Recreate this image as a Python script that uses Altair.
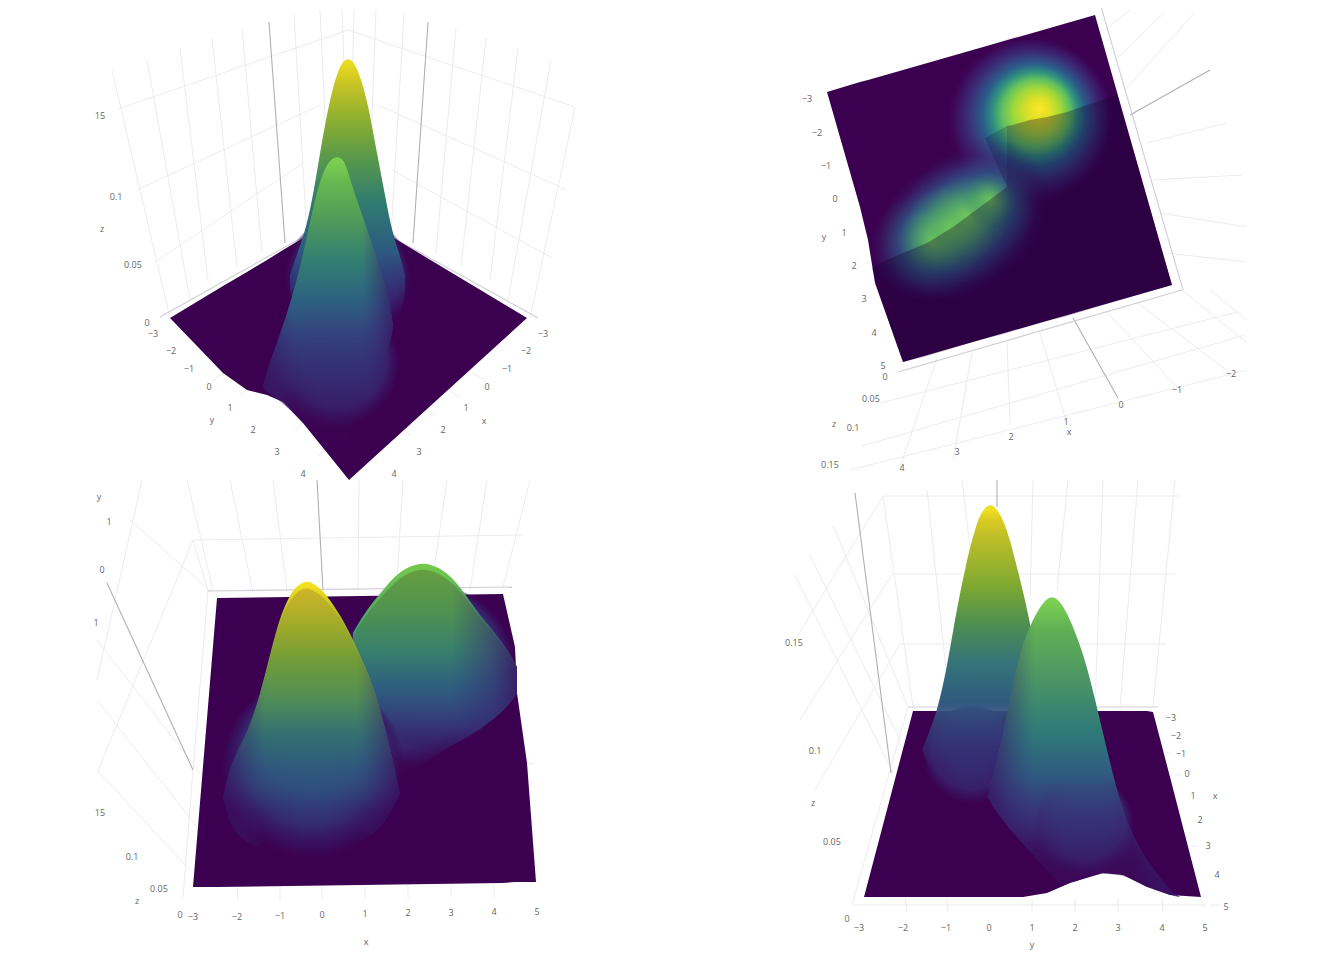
import altair as alt
import pandas as pd

# ---------- panel frames (picture coordinates) ----------
W, H = 664, 472
FRAMES = {1: (8, 8), 2: (672, 8), 3: (8, 480), 4: (672, 480)}

# ---------- panel 1 ----------
P1_FLOOR_X = [170, 223, 247, 267, 283, 303, 349, 527]
P1_FLOOR_TOP = [318, 286, 272, 260, 250, 238, 211, 318]
P1_FLOOR_BOT = [318, 373, 390, 395, 402, 423, 480, 318]
P1_BACK_X = [290, 298, 307, 314, 320, 325, 330, 338, 348, 358, 367, 372, 377, 385, 392, 400, 405]
P1_BACK_TOP = [275, 252, 225, 190, 153, 125, 100, 68, 55, 68, 100, 126, 153, 195, 232, 255, 275]
P1_BACK_BOT = [290, 320, 330, 335, 340, 340, 340, 340, 340, 340, 340, 340, 340, 340, 335, 320, 290]
P1_FRONT_X = [263, 267, 277, 290, 302, 310, 316, 323, 330, 337, 344, 348, 355, 363, 370, 377, 384, 390, 393]
P1_FRONT_TOP = [387, 370, 343, 305, 260, 222, 195, 172, 160, 156, 160, 172, 195, 217, 238, 260, 282, 303, 327]
P1_FRONT_BOT = [387, 392, 398, 410, 422, 430, 438, 445, 452, 455, 445, 437, 420, 403, 388, 373, 358, 343, 327]
P1_SKIRT_BACK = [(348, 278, 16384)]
P1_SKIRT_FRONT = [(338, 365, 15376)]
P1_GRID = [(112, 70, 170, 318), (147, 60, 190, 300), (180, 48, 208, 280), (212, 38, 237, 267), (242, 28, 262, 253),
           (294, 15, 307, 235), (320, 10, 330, 225), (342, 10, 349, 210), (354, 10, 349, 210), (376, 10, 368, 225),
           (404, 15, 391, 235), (456, 28, 436, 253), (486, 38, 461, 267), (518, 48, 490, 280), (551, 60, 508, 300),
           (575, 108, 530, 318), (118, 109, 348, 30), (137, 190, 320, 105), (155, 262, 303, 163),
           (575, 107, 348, 30), (567, 190, 378, 105), (552, 258, 392, 170),
           (223, 373, 212, 381), (247, 390, 240, 395), (303, 423, 295, 430), (325, 450, 318, 456),
           (472, 373, 486, 381), (450, 391, 460, 397), (428, 410, 436, 416), (405, 430, 410, 435)]
P1_AXES = [(269, 22, 285, 243), (428, 22, 413, 243)]
P1_EDGES = [(160, 317, 303, 237), (392, 237, 538, 318)]
P1_TEXT = ["15", "0.1", "z", "0.05", "0", "−3", "−2", "−1", "0", "1", "y", "2", "3", "4",
           "−3", "−2", "−1", "0", "1", "x", "2", "3", "4"]
P1_TEXT_X = [100, 116, 102, 133, 147, 153, 171, 189, 209, 230, 212, 253, 277, 303, 543, 526, 507, 487, 466, 484, 443, 419, 394]
P1_TEXT_Y = [116, 197, 229, 265, 323, 334, 351, 369, 387, 408, 420, 430, 452, 474, 334, 351, 369, 387, 408, 421, 430, 452, 474]

# ---------- panel 2 ----------
P2_FLOOR_X = [827, 860, 868, 875, 903, 1095, 1172]
P2_FLOOR_TOP = [92, 82, 80, 78, 70, 15, 285]
P2_FLOOR_BOT = [92, 207, 240, 283, 362, 307, 285]
P2_SHADE_X = [872, 893, 903, 927, 953, 980, 1007, 1007, 1013, 1030, 1047, 1067, 1090, 1117, 1172]
P2_SHADE_TOP = [268, 257, 253, 243, 227, 207, 187, 126, 125, 120, 117, 112, 104, 95, 285]
P2_SHADE_BOT = [268, 334, 362, 356, 348, 340, 333, 333, 331, 326, 321, 316, 309, 301, 285]
P2_WEDGE_X = [985, 1007]
P2_WEDGE_TOP = [138, 126]
P2_WEDGE_BOT = [138, 187]
P2_BLOB_A = [(1030, 120, 28900)]
P2_HALO_B = [(942, 240, 16900), (965, 222, 22500), (985, 207, 19600)]
P2_MID_B = [(925, 246, 12100), (945, 234, 16900), (968, 218, 16900), (990, 202, 10000)]
P2_CORE_B = [(932, 241, 4900), (950, 229, 8100), (968, 217, 7000), (990, 200, 3000)]
P2_GRID = [(937, 358, 900, 467), (972, 353, 953, 460), (1007, 342, 1010, 423), (1040, 333, 1065, 417), (1107, 312, 1177, 387),
           (1138, 303, 1230, 373), (1182, 290, 1247, 343), (880, 403, 1237, 312), (862, 446, 1245, 335), (850, 470, 1247, 370),
           (1147, 143, 1227, 123), (1152, 180, 1242, 175), (1160, 213, 1247, 227), (1167, 253, 1247, 262),
           (1125, 90, 1195, 12), (1115, 60, 1165, 12), (1105, 30, 1130, 10), (1210, 290, 1247, 320)]
P2_AXES = [(1130, 115, 1210, 70), (1073, 318, 1118, 398)]
P2_EDGES = [(898, 372, 1182, 290), (1100, 3, 1183, 290)]
P2_TEXT = ["−3", "−2", "−1", "0", "1", "y", "2", "3", "4", "5", "0", "0.05", "z", "0.1", "0.15", "4", "3", "2", "1", "x", "0", "−1", "−2"]
P2_TEXT_X = [807, 817, 826, 835, 844, 824, 854, 864, 874, 883, 885, 871, 834, 853, 830, 902, 957, 1011, 1066, 1069, 1121, 1177, 1231]
P2_TEXT_Y = [99, 133, 166, 199, 233, 237, 266, 299, 333, 366, 377, 399, 424, 428, 465, 468, 452, 437, 422, 432, 405, 390, 374]

# ---------- panel 3 ----------
P3_FLOOR_X = [193, 217, 503, 515, 517, 527, 536]
P3_FLOOR_TOP = [887, 598, 594, 647, 693, 763, 882]
P3_FLOOR_BOT = [887, 887, 883, 882, 882, 882, 882]
P3_B_X = [353, 365, 383, 395, 407, 423, 439, 455, 467, 483, 503, 517]
P3_B_TOP = [633, 612, 590, 576, 567, 562, 567, 580, 597, 620, 642, 667]
P3_B_IN = [636, 616, 595, 582, 573, 568, 573, 585, 600, 622, 644, 669]
P3_B_BOT = [780, 780, 780, 778, 772, 764, 752, 744, 737, 727, 712, 693]
P3_SKIRT_B = [(400, 690, 25600), (435, 668, 26896)]
P3_A_X = [223, 230, 240, 247, 257, 267, 277, 285, 292, 298, 307, 316, 323, 330, 340, 350, 367, 377, 390, 400]
P3_A_TOP = [797, 767, 745, 733, 705, 667, 627, 605, 592, 585, 580, 585, 591, 600, 615, 633, 670, 697, 747, 793]
P3_A_IN = [798, 768, 746, 734, 706, 669, 630, 609, 598, 591, 587, 592, 597, 605, 618, 636, 672, 698, 748, 794]
P3_A_BOT = [797, 826, 837, 842, 847, 851, 854, 856, 857, 857, 857, 856, 855, 853, 850, 848, 838, 831, 815, 793]
P3_SKIRT_A = [(312, 768, 33856)]
P3_GRID = [(253, 593, 230, 480), (287, 590, 273, 480), (358, 590, 359, 480), (397, 580, 403, 480), (433, 577, 447, 480),
           (470, 590, 487, 480), (503, 587, 530, 480), (213, 590, 187, 480), (193, 540, 523, 535), (193, 540, 208, 591),
           (130, 520, 217, 597), (97, 640, 200, 773), (97, 700, 197, 827), (97, 770, 190, 870), (142, 480, 97, 680),
           (193, 540, 97, 773), (193, 770, 183, 897), (237, 887, 238, 900), (280, 886, 280, 900), (322, 885, 322, 900),
           (365, 885, 365, 898), (408, 884, 408, 898), (451, 884, 451, 897), (494, 883, 494, 897), (527, 763, 535, 764),
           (208, 591, 193, 770)]
P3_AXES = [(317, 480, 323, 590), (107, 583, 193, 770)]
P3_EDGES = [(208, 591, 512, 587)]
P3_TEXT = ["y", "1", "0", "1", "15", "0.1", "0.05", "z", "0", "−3", "−2", "−1", "0", "1", "2", "3", "4", "5", "x"]
P3_TEXT_X = [99, 109, 102, 96, 100, 132, 159, 137, 180, 193, 237, 280, 322, 365, 408, 451, 494, 537, 366]
P3_TEXT_Y = [497, 522, 570, 623, 813, 857, 889, 901, 915, 917, 917, 916, 915, 914, 913, 913, 912, 912, 942]

# ---------- panel 4 ----------
P4_FLOOR_X = [864, 913, 1023, 1047, 1070, 1103, 1123, 1147, 1153, 1170, 1201]
P4_FLOOR_TOP = [897, 711, 711, 711, 711, 711, 711, 711, 712, 777, 897]
P4_FLOOR_BOT = [897, 897, 897, 893, 883, 873, 875, 887, 889, 895, 897]
P4_BACK_X = [922, 930, 938, 947, 954, 960, 965, 970, 975, 980, 991, 1003, 1010, 1017, 1030, 1040]
P4_BACK_TOP = [750, 730, 708, 667, 625, 593, 570, 547, 530, 514, 500, 518, 540, 567, 620, 680]
P4_BACK_BOT = [750, 770, 777, 785, 790, 792, 795, 798, 800, 802, 805, 805, 802, 800, 790, 780]
P4_SKIRT_BACK = [(972, 755, 10000)]
P4_FRONT_X = [988, 995, 1003, 1012, 1020, 1033, 1043, 1052, 1061, 1070, 1080, 1087, 1097, 1110, 1123, 1137, 1150, 1170, 1180]
P4_FRONT_TOP = [797, 768, 735, 690, 650, 619, 602, 595, 602, 619, 645, 667, 707, 763, 813, 843, 865, 890, 897]
P4_FRONT_BOT = [797, 810, 820, 832, 840, 855, 866, 876, 885, 883, 880, 877, 874, 874, 875, 882, 888, 895, 897]
P4_SKIRT_FRONT = [(1050, 790, 13456), (1085, 825, 10000)]
P4_GRID = [(883, 496, 1180, 496), (892, 574, 1175, 574), (900, 644, 1167, 644), (883, 496, 913, 707), (927, 490, 950, 707),
           (962, 480, 977, 607), (1033, 480, 1030, 600), (1068, 480, 1057, 590), (1103, 480, 1095, 707), (1138, 480, 1120, 707),
           (1175, 480, 1153, 707), (795, 575, 893, 773), (810, 555, 900, 740), (833, 525, 908, 707), (883, 496, 795, 640),
           (892, 574, 800, 720), (900, 644, 815, 790), (852, 905, 1207, 905), (905, 898, 907, 912), (947, 898, 948, 912),
           (1032, 898, 1032, 912), (1075, 898, 1075, 912), (1118, 898, 1118, 912), (1162, 898, 1163, 912), (1155, 718, 1160, 718),
           (1165, 752, 1172, 754), (1175, 775, 1182, 775), (1190, 846, 1198, 846), (1210, 905, 1220, 905), (908, 707, 852, 905)]
P4_AXES = [(997, 480, 997, 507), (855, 493, 891, 773)]
P4_EDGES = [(908, 707, 1158, 707)]
P4_TEXT = ["0.15", "0.1", "z", "0.05", "0", "−3", "−2", "−1", "0", "1", "2", "3", "4", "5", "y",
           "−3", "−2", "−1", "0", "1", "x", "2", "3", "4", "5"]
P4_TEXT_X = [794, 815, 813, 832, 847, 859, 903, 946, 989, 1032, 1075, 1118, 1162, 1205, 1032, 1171, 1176, 1181, 1187, 1193, 1215, 1200, 1208, 1217, 1226]
P4_TEXT_Y = [643, 751, 803, 842, 919, 928, 928, 928, 928, 928, 928, 928, 928, 928, 945, 718, 736, 754, 774, 796, 796, 820, 846, 875, 907]

FLOOR = "#3b0150"
SKIRT = [(0, "#2f6a78"), (0.3, "#2f5c7c"), (0.55, "#2f447e"), (0.76, "#342b6e"), (0.92, "rgba(57,18,98,0.6)"), (1, "rgba(59,1,80,0)")]
SKIRT_DARK = [(0, "#2f5f7c"), (0.35, "#31487f"), (0.62, "#343274"), (0.82, "#38206a"), (0.94, "rgba(57,14,90,0.55)"), (1, "rgba(59,1,80,0)")]
SKIRT_LOW = [(0, "#33367a"), (0.55, "#342e74"), (0.8, "#38206a"), (0.94, "rgba(57,14,90,0.55)"), (1, "rgba(59,1,80,0)")]
SIDE = [(0, "rgba(58,16,96,0.75)"), (0.1, "rgba(56,30,108,0.45)"), (0.24, "rgba(52,50,120,0)"),
        (0.76, "rgba(52,50,120,0)"), (0.9, "rgba(56,30,108,0.45)"), (1, "rgba(58,16,96,0.75)")]
SIDE_RIGHT = [(0, "rgba(52,50,120,0)"), (0.6, "rgba(52,50,120,0)"), (0.85, "rgba(56,40,115,0.55)"), (1, "rgba(58,20,100,0.85)")]


def grad(top, bot, stops):
    span = max(bot) - min(top)
    return alt.LinearGradient(
        gradient="linear", x1=0, x2=0, y1=0, y2=1,
        stops=[alt.GradientStop(offset=max(0, min(1, (y - min(top)) / span)), color=c) for y, c in stops],
    )


def side(stops=SIDE):
    return alt.LinearGradient(
        gradient="linear", x1=0, x2=1, y1=0, y2=0,
        stops=[alt.GradientStop(offset=o, color=c) for o, c in stops],
    )


def radial(stops, fx=0.5, fy=0.5):
    return alt.RadialGradient(
        gradient="radial", x1=fx, y1=fy, x2=0.5, y2=0.5, r1=0, r2=0.5,
        stops=[alt.GradientStop(offset=o, color=c) for o, c in stops],
    )


def panel(n, layers):
    x0, y0 = FRAMES[n]
    return alt.layer(*layers(alt.Scale(domain=[x0, x0 + W]),
                             alt.Scale(domain=[y0, y0 + H], reverse=True))).properties(width=W, height=H)


def area(xs, top, bot, sx, sy, interp="basis", **kw):
    df = pd.DataFrame({"px": xs, "ptop": top, "pbot": bot})
    return alt.Chart(df).mark_area(interpolate=interp, clip=True, orient="vertical", **kw).encode(
        x=alt.X("px:Q", scale=sx, axis=None),
        y=alt.Y("ptop:Q", scale=sy, axis=None),
        y2=alt.Y2("pbot:Q"),
    )


def lines(segs, sx, sy, color, width):
    df = pd.DataFrame(segs, columns=["x", "y", "x2", "y2"])
    return alt.Chart(df).mark_rule(color=color, strokeWidth=width, clip=True).encode(
        x=alt.X("x:Q", scale=sx, axis=None),
        y=alt.Y("y:Q", scale=sy, axis=None),
        x2="x2:Q",
        y2="y2:Q",
    )


def labels(txt, xs, ys, sx, sy):
    df = pd.DataFrame({"t": txt, "x": xs, "y": ys})
    return alt.Chart(df).mark_text(font="Open Sans", fontSize=9, color="#666666", clip=True).encode(
        x=alt.X("x:Q", scale=sx, axis=None),
        y=alt.Y("y:Q", scale=sy, axis=None),
        text="t:N",
    )


def circles(blobs, sx, sy, fill):
    df = pd.DataFrame(blobs, columns=["x", "y", "s"])
    return alt.Chart(df).mark_circle(color=fill, opacity=1, clip=True).encode(
        x=alt.X("x:Q", scale=sx, axis=None),
        y=alt.Y("y:Q", scale=sy, axis=None),
        size=alt.Size("s:Q", scale=None, legend=None),
    )


def frame(sx, sy, grid, axes, edges):
    return [lines(grid, sx, sy, "#ececf0", 1), lines(axes, sx, sy, "#b0b0b0", 1.1), lines(edges, sx, sy, "#cfcdd6", 1.1)]


def p1(sx, sy):
    return frame(sx, sy, P1_GRID, P1_AXES, P1_EDGES) + [
        area(P1_FLOOR_X, P1_FLOOR_TOP, P1_FLOOR_BOT, sx, sy, "linear", color=FLOOR),
        circles(P1_SKIRT_BACK, sx, sy, radial(SKIRT_DARK, fy=0.22)),
        area(P1_BACK_X, P1_BACK_TOP, P1_BACK_BOT, sx, sy, color=grad(P1_BACK_TOP, P1_BACK_BOT, [
            (58, "#ecdc1f"), (80, "#c8c426"), (110, "#96b22e"), (150, "#5e9c46"), (200, "#2f7c70"),
            (250, "#2d5a80"), (280, "rgba(50,60,125,0.75)"), (310, "rgba(60,30,110,0.2)"), (330, "rgba(59,1,80,0)")])),
        circles(P1_SKIRT_FRONT, sx, sy, radial(SKIRT_LOW, fy=0.22)),
        area(P1_FRONT_X, P1_FRONT_TOP, P1_FRONT_BOT, sx, sy, color=grad(P1_FRONT_TOP, P1_FRONT_BOT, [
            (160, "#7ad151"), (180, "#68b850"), (220, "#4f9a5a"), (260, "#337f72"), (300, "#2c6280"),
            (330, "#33467f"), (365, "rgba(52,50,118,0.7)"), (400, "rgba(58,28,104,0.4)"), (445, "rgba(59,10,92,0.1)")])),
        area(P1_FRONT_X, P1_FRONT_TOP, P1_FRONT_BOT, sx, sy, color=side()),
        labels(P1_TEXT, P1_TEXT_X, P1_TEXT_Y, sx, sy),
    ]


def p2(sx, sy):
    fill_a = radial([(0, "#fde725"), (0.14, "#dce026"), (0.28, "#a0d83a"), (0.4, "#5fc060"), (0.5, "#2f9080"),
                     (0.6, "#2a5f8a"), (0.72, "rgba(56,60,128,0.95)"), (0.86, "rgba(62,36,116,0.6)"), (1, "rgba(59,1,80,0)")],
                    fx=0.56, fy=0.43)
    fill_halo = radial([(0, "rgba(50,60,130,0.55)"), (0.6, "rgba(60,45,120,0.4)"), (1, "rgba(59,1,80,0)")])
    fill_mid = radial([(0, "rgba(44,130,130,0.7)"), (0.55, "rgba(44,110,140,0.45)"), (1, "rgba(50,60,130,0)")])
    fill_core = radial([(0, "rgba(134,220,82,0.75)"), (0.5, "rgba(100,195,90,0.4)"), (1, "rgba(60,150,110,0)")])
    return frame(sx, sy, P2_GRID, P2_AXES, P2_EDGES) + [
        area(P2_FLOOR_X, P2_FLOOR_TOP, P2_FLOOR_BOT, sx, sy, "linear", color=FLOOR),
        circles(P2_BLOB_A, sx, sy, fill_a),
        circles(P2_HALO_B, sx, sy, fill_halo),
        circles(P2_MID_B, sx, sy, fill_mid),
        circles(P2_CORE_B, sx, sy, fill_core),
        area(P2_WEDGE_X, P2_WEDGE_TOP, P2_WEDGE_BOT, sx, sy, "linear", color="#10002a", opacity=0.2),
        area(P2_SHADE_X, P2_SHADE_TOP, P2_SHADE_BOT, sx, sy, "linear", color="#10002a", opacity=0.32),
        labels(P2_TEXT, P2_TEXT_X, P2_TEXT_Y, sx, sy),
    ]


def p3(sx, sy):
    return frame(sx, sy, P3_GRID, P3_AXES, P3_EDGES) + [
        area(P3_FLOOR_X, P3_FLOOR_TOP, P3_FLOOR_BOT, sx, sy, "linear", color=FLOOR),
        circles(P3_SKIRT_B, sx, sy, radial(SKIRT_DARK, fy=0.22)),
        area(P3_B_X, P3_B_TOP, P3_B_BOT, sx, sy, color=grad(P3_B_TOP, P3_B_BOT, [
            (565, "#74c84c"), (620, "#4aa868"), (680, "#2f6a7c"), (720, "rgba(51,64,124,0.5)"), (760, "rgba(58,26,102,0)")])),
        area(P3_B_X, P3_B_IN, P3_B_BOT, sx, sy, color=grad(P3_B_IN, P3_B_BOT, [
            (571, "#659e42"), (610, "#4f9250"), (650, "#38806c"), (685, "#2e5f7e"), (720, "rgba(51,64,124,0.7)"),
            (750, "rgba(56,38,110,0.25)"), (780, "rgba(59,10,92,0)")])),
        area(P3_B_X, P3_B_TOP, P3_B_BOT, sx, sy, color=side(SIDE_RIGHT)),
        circles(P3_SKIRT_A, sx, sy, radial(SKIRT, fy=0.22)),
        area(P3_A_X, P3_A_TOP, P3_A_BOT, sx, sy, color=grad(P3_A_TOP, P3_A_BOT, [
            (583, "#f4e020"), (620, "#a8b828"), (700, "#4f8c58"), (760, "rgba(47,100,120,0.4)"), (800, "rgba(47,80,128,0)")])),
        area(P3_A_X, P3_A_IN, P3_A_BOT, sx, sy, color=grad(P3_A_IN, P3_A_BOT, [
            (590, "#cdb428"), (620, "#a6ac28"), (660, "#709c38"), (700, "#4f8c58"), (735, "#336f72"),
            (770, "rgba(47,90,126,0.6)"), (810, "rgba(47,80,128,0)")])),
        area(P3_A_X, P3_A_TOP, P3_A_BOT, sx, sy, color=side()),
        labels(P3_TEXT, P3_TEXT_X, P3_TEXT_Y, sx, sy),
    ]


def p4(sx, sy):
    return frame(sx, sy, P4_GRID, P4_AXES, P4_EDGES) + [
        area(P4_FLOOR_X, P4_FLOOR_TOP, P4_FLOOR_BOT, sx, sy, "linear", color=FLOOR),
        circles(P4_SKIRT_BACK, sx, sy, radial(SKIRT_LOW, fy=0.22)),
        area(P4_BACK_X, P4_BACK_TOP, P4_BACK_BOT, sx, sy, color=grad(P4_BACK_TOP, P4_BACK_BOT, [
            (504, "#f2e020"), (515, "#d8cc22"), (530, "#c2c028"), (580, "#80aa30"), (620, "#4f9050"), (660, "#357478"),
            (700, "#2f5a80"), (735, "rgba(52,58,120,0.75)"), (770, "rgba(57,30,106,0.25)"), (800, "rgba(59,10,92,0)")])),
        circles(P4_SKIRT_FRONT, sx, sy, radial(SKIRT_LOW, fy=0.22)),
        area(P4_FRONT_X, P4_FRONT_TOP, P4_FRONT_BOT, sx, sy, color=grad(P4_FRONT_TOP, P4_FRONT_BOT, [
            (599, "#7ad151"), (630, "#5fae55"), (680, "#4a9465"), (730, "#2f7a78"), (775, "#2f5a80"),
            (815, "rgba(56,53,122,0.7)"), (860, "rgba(58,26,104,0.45)"), (897, "rgba(59,10,92,0.3)")])),
        area(P4_FRONT_X, P4_FRONT_TOP, P4_FRONT_BOT, sx, sy, color=side()),
        labels(P4_TEXT, P4_TEXT_X, P4_TEXT_Y, sx, sy),
    ]


top = alt.hconcat(panel(1, p1), panel(2, p2), spacing=0)
bottom = alt.hconcat(panel(3, p3), panel(4, p4), spacing=0)
chart = alt.vconcat(top, bottom, spacing=0).properties(padding=0).configure_view(stroke=None)
chart.save("out.html", embed_options={"renderer": "svg", "actions": False})
